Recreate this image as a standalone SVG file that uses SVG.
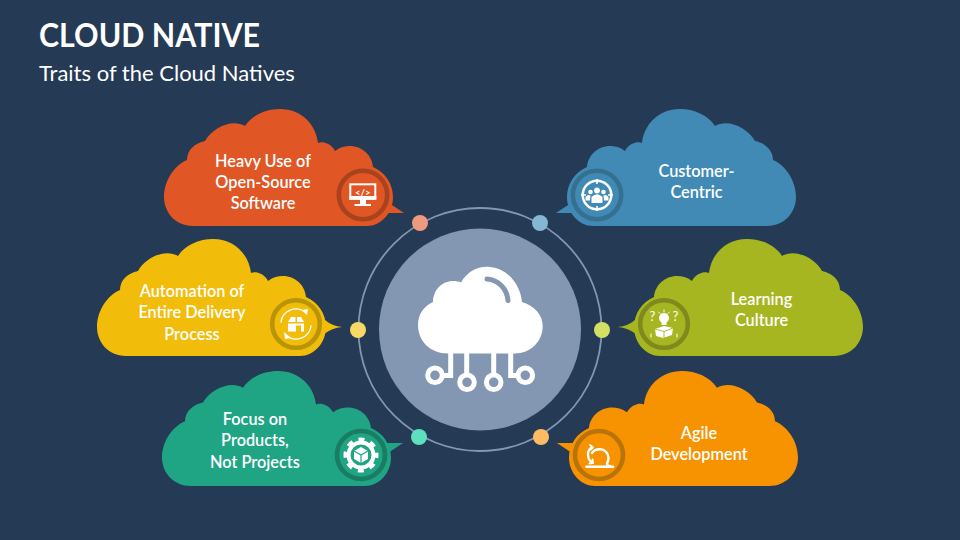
<svg xmlns="http://www.w3.org/2000/svg" xmlns:xlink="http://www.w3.org/1999/xlink" width="960" height="540" viewBox="0 0 960 540">
<style>
text{font-family:"Lato","Liberation Sans",sans-serif;fill:#fff}
.t{font-size:16.300px;font-weight:600;text-anchor:middle}
.ring{fill:none;stroke-width:4.600}
.wl{fill:none;stroke:#fff;stroke-linecap:round;stroke-linejoin:round}
.w{fill:#fff}
</style>
<defs>
<path id="cloud" d="M193,226C175,226 164,212 164,197C164,180 175,165 187,160C187,150 195,143 205,141C212,128 232,118 245,126C252,115 266,109 280,109C302,109 316,125 318,143C322,141 331,143 335,151C340,147 345,146 350,146C362,146 372,155 373,167C385,172 393,184 393,197C393,213 381,226 367,226Z"/>
</defs>
<rect width="960" height="540" fill="#253A54"/>
<text x="39" y="46.500" font-size="31.500" font-weight="700" textLength="221" lengthAdjust="spacingAndGlyphs">CLOUD NATIVE</text>
<text x="39" y="80.500" font-size="22">Traits of the Cloud Natives</text>

<g id="connectors">
<circle cx="480" cy="329.500" r="121.500" fill="none" stroke="#8397B2" stroke-width="1.800"/>
<g id="dots">
<circle cx="420" cy="223" r="8" fill="#EE9A7E"/>
<circle cx="540" cy="223" r="8" fill="#85B6D3"/>
<circle cx="358" cy="330" r="8" fill="#F8D966"/>
<circle cx="602" cy="330" r="8" fill="#D3E063"/>
<circle cx="419" cy="437" r="8" fill="#5CE0BD"/>
<circle cx="541" cy="437" r="8" fill="#FDBB62"/>
</g>
</g>

<g id="hub">
<circle cx="480" cy="329.500" r="101" fill="#8397B2"/>
<path class="w" d="M448,353.500C430,353.500 418,341 418,325C418,314 424,306 433,302C433,290 442,281 453,281C456,281 459,281.500 461,282.500C467,272 476,266.700 487,266.700C505,266.700 520,282 522,302C535,306 542.700,315 542.700,326C542.700,342 530,353.500 515,353.500Z"/>
<path d="M487,279C498,280 507,288 508,300.500" fill="none" stroke="#8397B2" stroke-width="5" stroke-linecap="round"/>
<path d="M450.700,353V375.500H443M466.700,353V375M493.700,353V375M510.700,353V375.500H518" fill="none" stroke="#fff" stroke-width="5"/>
<g fill="none" stroke="#fff" stroke-width="5">
<circle cx="435" cy="375.300" r="7.300"/>
<circle cx="467" cy="382.300" r="7.300"/>
<circle cx="493.700" cy="382.300" r="7.300"/>
<circle cx="525.300" cy="375.300" r="7.300"/>
</g>
</g>

<g id="node-open-source">
<use xlink:href="#cloud" href="#cloud" fill="#E05625"/>
<path fill="#E05625" d="M389,203L404,213H384Z"/>
<circle class="ring" cx="363" cy="195" r="24.200" stroke="#A9431D"/>
<rect x="350.300" y="184.300" width="25" height="14.500" fill="none" stroke="#fff" stroke-width="2"/>
<rect class="w" x="349.300" y="196" width="27" height="3.500"/>
<rect class="w" x="360" y="199" width="6" height="5"/>
<rect class="w" x="354.500" y="204" width="16.500" height="2"/>
<text x="362.800" y="195.500" font-size="9.500" font-weight="700" text-anchor="middle">&lt;/&gt;</text>
<text class="t" x="263" y="166.700">Heavy Use of</text>
<text class="t" x="263" y="187.700">Open-Source</text>
<text class="t" x="263" y="208.700">Software</text>
</g>

<g id="node-customer">
<use xlink:href="#cloud" href="#cloud" fill="#418AB6" transform="matrix(-1 0 0 1 960 0)"/>
<path fill="#418AB6" d="M571,203L556,213H576Z"/>
<circle class="ring" cx="597" cy="195" r="24.200" stroke="#35708F"/>
<circle cx="597" cy="195" r="14.300" fill="none" stroke="#fff" stroke-width="2.500"/>
<path d="M597,179V184M597,206V211M581,195H586M608,195H613" stroke="#fff" stroke-width="1.600"/>
<circle class="w" cx="597" cy="190.500" r="2.900"/>
<circle class="w" cx="590.500" cy="192" r="2.300"/>
<circle class="w" cx="603.500" cy="192" r="2.300"/>
<path class="w" d="M591.500,203V197Q597,191.500 602.500,197V203Z"/>
<path class="w" d="M585.500,200.500V197Q588,193.800 590.500,195.500L590,200.500ZM608.500,200.500V197Q606,193.800 603.500,195.500L604,200.500Z"/>
<text class="t" x="696.500" y="176.700">Customer-</text>
<text class="t" x="696.500" y="197.700">Centric</text>
</g>

<g id="node-automation">
<use xlink:href="#cloud" href="#cloud" fill="#F2BC0A" transform="translate(-67 130)"/>
<path fill="#F2BC0A" d="M325,320Q332,326 342,327Q332,328 324,334Z"/>
<circle class="ring" cx="296" cy="324" r="23.800" stroke="#B89408"/>
<path class="wl" stroke-width="1.300" d="M306,313A15,15 0 0 0 281,322M286,335A15,15 0 0 0 311,326"/>
<path class="w" d="M302,310L308,309L307,315ZM284,332L285,339L291,338Z"/>
<path class="w" d="M288,322L291,317H295.500V322ZM297,322V317H301L304,322ZM288,323.500H304V331.500H301V325.500H296V331.500H288Z"/>
<text class="t" x="192" y="296.700">Automation of</text>
<text class="t" x="192" y="317.700">Entire Delivery</text>
<text class="t" x="192" y="339.700">Process</text>
</g>

<g id="node-learning">
<use xlink:href="#cloud" href="#cloud" fill="#A6B621" transform="matrix(-1 0 0 1 960 130)" x="-67"/>
<path fill="#A6B621" d="M635,320Q628,326 618,327Q628,328 636,334Z"/>
<circle class="ring" cx="664" cy="324" r="23.800" stroke="#7E8A1B"/>
<circle class="w" cx="664" cy="318" r="5"/>
<rect class="w" x="661.500" y="322" width="5" height="3"/>
<path class="wl" stroke-width="1" d="M664,310V312M658.500,312L660,313.500M669.500,312L668,313.500"/>
<text x="652.500" y="321" font-size="13" text-anchor="middle">?</text>
<text x="675.500" y="321" font-size="13" text-anchor="middle">?</text>
<path class="w" d="M655,329L664,326L673,328L672,335L663,338L656,336Z"/>
<path d="M655,329L664,331.500L673,328M664,331.500V338" fill="none" stroke="#A6B621" stroke-width="0.900"/>
<path class="wl" stroke-width="1" d="M651,334V337M677,334V337"/>
<text class="t" x="761.500" y="304.700">Learning</text>
<text class="t" x="761.500" y="325.700">Culture</text>
</g>

<g id="node-products">
<use xlink:href="#cloud" href="#cloud" fill="#1FA584" transform="matrix(1 0 0 .983 -2 263.900)"/>
<path fill="#1FA584" d="M387,443H403L388,453Z"/>
<circle class="ring" cx="361" cy="455" r="24" stroke="#1A7C62"/>
<circle cx="361" cy="455" r="12.500" fill="none" stroke="#fff" stroke-width="4"/>
<circle cx="361" cy="455" r="15.500" fill="none" stroke="#fff" stroke-width="4" stroke-dasharray="6 6.170" stroke-dashoffset="3"/>
<path class="w" d="M361,447L368,451V459L361,463L354,459V451Z"/>
<path d="M354,451L361,455L368,451M361,455V463" fill="none" stroke="#1FA584" stroke-width="1.200"/>
<text class="t" x="255" y="424.700">Focus on</text>
<text class="t" x="255" y="445.700">Products,</text>
<text class="t" x="255" y="467.700">Not Projects</text>
</g>

<g id="node-agile">
<use xlink:href="#cloud" href="#cloud" fill="#F79300" transform="matrix(-1 0 0 .983 962 263.900)"/>
<path fill="#F79300" d="M573,443H557L572,453Z"/>
<circle class="ring" cx="599" cy="455" r="24" stroke="#B97409"/>
<path class="wl" stroke-width="2.600" d="M586.500,466.700H613"/>
<path class="wl" stroke-width="2.400" d="M592,453C594,450 597,449.300 600,449.300C605,449.300 608.500,453.500 608.500,458C608.500,461 607,463 607,464C607,465.500 608.500,466 610,466"/>
<path class="wl" stroke-width="2.400" d="M592,447.500C589,449 588,451 588,454C588,458 590,461.500 592.500,462.500"/>
<path class="wl" stroke-width="1.800" d="M590,445L593,447.500L590,450M589.500,463.500L593,463L592.500,459.500"/>
<text class="t" x="699" y="438.700">Agile</text>
<text class="t" x="699" y="459.700">Development</text>
</g>
</svg>
